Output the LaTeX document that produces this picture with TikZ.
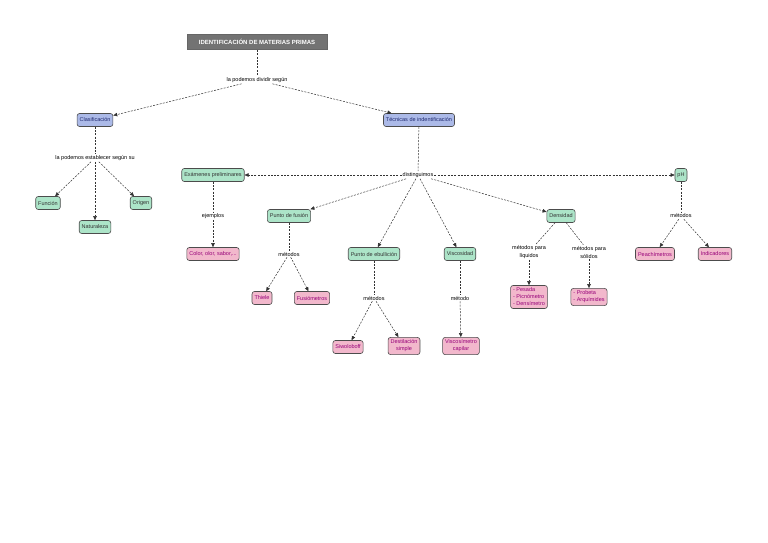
\documentclass[tikz,border=0pt]{standalone}
\usepackage{fontspec}
\setmainfont{Liberation Sans}
\usetikzlibrary{arrows.meta}
\definecolor{bluef}{RGB}{172,186,232}
\definecolor{greenf}{RGB}{172,228,200}
\definecolor{pinkf}{RGB}{242,184,204}
\definecolor{pinkt}{RGB}{150,0,120}
\definecolor{bluet}{RGB}{30,40,110}
\begin{document}
\begin{tikzpicture}[x=1pt,y=-1pt,
  base/.style={draw=black!70,line width=0.6pt,rounded corners=2.5pt,font=\fontsize{5.5}{7}\selectfont,inner sep=2.5pt,minimum height=13pt,align=center},
  bluebox/.style={base,fill=bluef,text=bluet},
  greenbox/.style={base,fill=greenf,text=black!80},
  pinkbox/.style={base,fill=pinkf,text=pinkt},
  lbl/.style={font=\fontsize{5.5}{8}\selectfont,inner sep=1pt,align=center,fill=white},
  con/.style={dashed,black!80,line width=0.5pt,dash pattern=on 2pt off 1.3pt},
  arr/.style={con,-{Triangle[length=4pt,width=3.5pt]}}]
\useasboundingbox (0,0) rectangle (768,543);
\node[draw=black!60,line width=1pt,fill=black!55,text=white,font=\bfseries\fontsize{6}{7}\selectfont,minimum width=140pt,minimum height=15pt] (t) at (257,42) {IDENTIFICACIÓN DE MATERIAS PRIMAS};
\node[lbl] (l1) at (257,80) {la podemos dividir según};
\node[bluebox] (cla) at (95,120) {Clasificación};
\node[bluebox] (tec) at (419,120) {Técnicas de indentificación};
\node[lbl] (l2) at (95,158) {la podemos establecer según su};
\node[greenbox] (fun) at (48,203) {Función};
\node[greenbox] (nat) at (95,227) {Naturaleza};
\node[greenbox] (ori) at (141,203) {Origen};
\node[lbl] (dis) at (418,175) {distinguimos};
\node[greenbox] (exa) at (213,175) {Exámenes preliminares};
\node[greenbox] (ph) at (681,175) {pH};
\node[greenbox] (pf) at (289,216) {Punto de fusión};
\node[greenbox] (den) at (561,216) {Densidad};
\node[greenbox] (pe) at (374,254) {Punto de ebullición};
\node[greenbox] (vis) at (460,254) {Viscosidad};
\node[lbl] (ej) at (213,216) {ejemplos};
\node[pinkbox] (col) at (213,254) {Color, olor, sabor,...};
\node[lbl] (m1) at (289,254) {métodos};
\node[pinkbox] (thi) at (262,298) {Thiele};
\node[pinkbox] (fus) at (312,298) {Fusiómetros};
\node[lbl] (m2) at (374,298) {métodos};
\node[pinkbox] (siw) at (348,347) {Siwoloboff};
\node[pinkbox] (des) at (404,346) {Destilación\\simple};
\node[lbl] (m3) at (460,298) {método};
\node[pinkbox] (vc) at (461,346) {Viscosímetro\\capilar};
\node[lbl] (ml) at (529,252) {métodos para\\líquidos};
\node[lbl] (ms) at (589,252) {métodos para\\sólidos};
\node[pinkbox,align=left] (pl) at (529,297) {- Pesada\\- Picnómetro\\- Densímetro};
\node[pinkbox,align=left] (psol) at (589,297) {- Probeta\\- Arquímides};
\node[lbl] (m4) at (681,216) {métodos};
\node[pinkbox] (pea) at (655,254) {Peachímetros};
\node[pinkbox] (ind) at (715,254) {Indicadores};
\draw[con] (t) -- (l1);
\draw[arr] (l1) -- (cla);
\draw[arr] (l1) -- (tec);
\draw[con] (cla) -- (l2);
\draw[arr] (l2) -- (fun);
\draw[arr] (l2) -- (nat);
\draw[arr] (l2) -- (ori);
\draw[con] (tec) -- (dis);
\draw[arr] (dis) -- (exa);
\draw[arr] (dis) -- (ph);
\draw[arr] (dis) -- (pf);
\draw[arr] (dis) -- (den);
\draw[arr] (dis) -- (pe);
\draw[arr] (dis) -- (vis);
\draw[con] (exa) -- (ej);
\draw[arr] (ej) -- (col);
\draw[con] (pf) -- (m1);
\draw[arr] (m1) -- (thi);
\draw[arr] (m1) -- (fus);
\draw[con] (pe) -- (m2);
\draw[arr] (m2) -- (siw);
\draw[arr] (m2) -- (des);
\draw[con] (vis) -- (m3);
\draw[arr] (m3) -- (vc);
\draw[con] (den) -- (ml);
\draw[con] (den) -- (ms);
\draw[arr] (ml) -- (pl);
\draw[arr] (ms) -- (psol);
\draw[con] (ph) -- (m4);
\draw[arr] (m4) -- (pea);
\draw[arr] (m4) -- (ind);
\end{tikzpicture}
\end{document}
